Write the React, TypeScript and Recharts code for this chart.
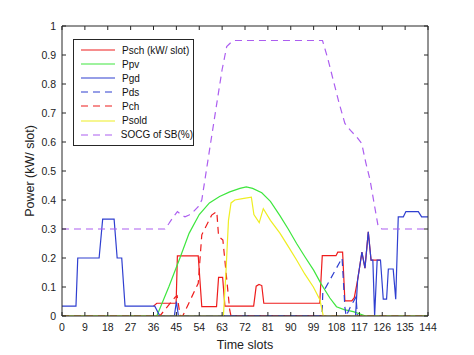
import React from "react";
import { LineChart, Line, XAxis, YAxis, Legend } from "recharts";

// time slot / value pairs
const PSCH = [
  [36, 0.034], [37.3, 0.044], [44.9, 0.044], [45.4, 0.207], [53.6, 0.207], [55, 0.032],
  [60.8, 0.032], [61.6, 0.133], [63.2, 0.133], [64.1, 0.034], [75.4, 0.034], [76.4, 0.103], [77.5, 0.109],
  [78.6, 0.105], [79.4, 0.044], [101.4, 0.044], [102.4, 0.208], [107.8, 0.208], [108.5, 0.22], [110.4, 0.22],
  [111.3, 0.052], [114, 0.052], [115, 0.063], [116.3, 0.124], [118, 0.22], [119.2, 0.165], [120.5, 0.29],
  [121.6, 0.193], [125.3, 0.193],
];
const PPV = [
  [0, 0], [37.3, 0], [42, 0.1], [46.4, 0.2], [50, 0.285], [54, 0.35], [58, 0.39], [62, 0.412], [66, 0.428],
  [70, 0.44], [72.5, 0.445], [75, 0.44], [78.6, 0.425], [82, 0.395], [85.8, 0.345], [89, 0.3], [92.3, 0.25],
  [95.5, 0.205], [99, 0.158], [102, 0.11], [105.4, 0.062], [108, 0.032], [111, 0.022], [114.6, 0.015],
  [119.5, 0], [144, 0],
];
const PGD = [
  [0, 0.034], [5.5, 0.034], [6.2, 0.2], [14.6, 0.2], [16, 0.334], [20.5, 0.334], [21.7, 0.2], [23.5, 0.2],
  [24.8, 0.034], [36.5, 0.034], [38.5, 0], [44.2, 0], [45, 0.05], [45.8, 0], [115.5, 0], [116.3, 0.124],
  [118, 0.22], [119.2, 0.165], [120.5, 0.29], [121.6, 0.193], [122.3, 0.193], [123, 0], [124, 0.193],
  [125.3, 0.193], [126.4, 0.058], [127.7, 0.058], [128.4, 0.162], [130.3, 0.162], [131.3, 0.058],
  [132.3, 0.342], [134.3, 0.342], [135.3, 0.36], [140.2, 0.36], [141.5, 0.342], [144, 0.342],
];
const PDS = [
  [0, 0], [102.3, 0], [102.6, 0.08], [110.2, 0.2], [111.3, 0.03], [111.8, 0], [113.4, 0.03], [115.7, 0.066],
  [116.2, 0], [144, 0],
];
const PCH = [
  [0, 0], [38.5, 0], [44.5, 0.065], [45.3, 0.07], [46.5, 0], [47.5, 0], [53.6, 0.113], [55, 0.28],
  [58.9, 0.348], [60.9, 0.36], [61.6, 0.275], [63.3, 0.262], [66, 0.02], [66.5, 0], [144, 0],
];
const PSOLD = [
  [0, 0], [63.5, 0], [64.5, 0.15], [65.5, 0.33], [66.5, 0.39], [68, 0.4], [71, 0.405], [74.5, 0.41],
  [75.5, 0.35], [77.6, 0.322], [79.2, 0.37], [82, 0.33], [85.8, 0.285], [89, 0.24], [92.3, 0.193],
  [95.5, 0.145], [98.9, 0.1], [101.5, 0.055], [102.8, 0], [144, 0],
];
const SOCG = [
  [0, 0.3], [40.5, 0.3], [42, 0.318], [43.8, 0.342], [45.4, 0.36], [47, 0.348], [48.4, 0.342], [50, 0.348],
  [51.7, 0.36], [53.6, 0.377], [55, 0.4], [58, 0.57], [60.9, 0.733], [63, 0.85], [64.8, 0.929],
  [66.8, 0.946], [68, 0.95], [102.5, 0.95], [104.5, 0.89], [106.7, 0.814], [109, 0.735], [111.3, 0.664],
  [113.5, 0.64], [115.9, 0.618], [117.9, 0.595], [119.5, 0.53], [121.2, 0.469], [124.4, 0.308],
  [125.8, 0.3], [144, 0.3],
];

const X_TICKS = [0, 9, 18, 27, 36, 45, 54, 63, 72, 81, 90, 99, 108, 117, 126, 135, 144];
const Y_TICKS = [0, 0.1, 0.2, 0.3, 0.4, 0.5, 0.6, 0.7, 0.8, 0.9, 1];

const SERIES = [
  { name: "Psch (kW/ slot)", data: PSCH, color: "#ee1c1c", dash: undefined },
  { name: "Ppv", data: PPV, color: "#3ee63e", dash: undefined },
  { name: "Pgd", data: PGD, color: "#2f3fd0", dash: undefined },
  { name: "Pds", data: PDS, color: "#2f3fd0", dash: "7 5" },
  { name: "Pch", data: PCH, color: "#ee1c1c", dash: "7 5" },
  { name: "Psold", data: PSOLD, color: "#eeee22", dash: undefined },
  { name: "SOCG of SB(%)", data: SOCG, color: "#ac5ef0", dash: "7 5" },
];

const AXIS = "#262626";
const FONT = "'Liberation Sans', Arial, sans-serif";

const toPoints = (arr: number[][]) => arr.map(([t, v]) => ({ t, v }));

// inward tick marks only, no labels
const NoLabel = () => <g />;

const renderLegend = () => (
  <div
    style={{
      border: `1px solid ${AXIS}`,
      background: "#fff",
      padding: "3px 0",
      fontFamily: FONT,
      fontSize: 10,
      color: "#111",
    }}
  >
    {SERIES.map((s) => (
      <div key={s.name} style={{ display: "flex", alignItems: "center", height: 14.1 }}>
        <svg width={48} height={10}>
          <line x1={7} y1={5} x2={41} y2={5} stroke={s.color} strokeWidth={1.2} strokeDasharray={s.dash} />
        </svg>
        <span style={{ whiteSpace: "nowrap" }}>{s.name}</span>
      </div>
    ))}
  </div>
);

export default function App() {
  const tickStyle = { fontSize: 10.5, fontFamily: FONT, fill: "#222" };
  const inX = { type: "number" as const, dataKey: "t", domain: [0, 144], ticks: X_TICKS, interval: 0, allowDataOverflow: true, mirror: true, tick: NoLabel, tickSize: 4, tickLine: { stroke: AXIS } };
  const inY = { type: "number" as const, domain: [0, 1], ticks: Y_TICKS, interval: 0, allowDataOverflow: true, mirror: true, tick: NoLabel, tickSize: 4, tickLine: { stroke: AXIS } };
  return (
    <div style={{ position: "fixed", left: 0, top: 0, background: "#fff" }}>
      <LineChart width={474} height={355} margin={{ top: 26, right: 46, left: 0, bottom: 0 }}>
        <XAxis
          xAxisId="x"
          type="number"
          dataKey="t"
          domain={[0, 144]}
          allowDataOverflow
          ticks={X_TICKS}
          interval={0}
          height={39}
          tickLine={false}
          tickSize={0}
          tickMargin={8}
          axisLine={{ stroke: AXIS }}
          tick={tickStyle}
          label={{ value: "Time slots", position: "insideBottom", offset: 6, style: { fontSize: 12.5, fontFamily: FONT, fill: "#222" } }}
        />
        <XAxis xAxisId="xin" {...inX} axisLine={false} />
        <XAxis xAxisId="top" orientation="top" {...inX} axisLine={{ stroke: AXIS }} />
        <YAxis
          yAxisId="y"
          type="number"
          domain={[0, 1]}
          allowDataOverflow
          ticks={Y_TICKS}
          interval={0}
          width={62}
          tickLine={false}
          tickSize={0}
          tickMargin={6}
          axisLine={{ stroke: AXIS }}
          tick={tickStyle}
          label={{ value: "Power (kW/ slot)", angle: -90, position: "center", dx: -1, style: { fontSize: 12.5, fontFamily: FONT, fill: "#222" } }}
        />
        <YAxis yAxisId="yin" {...inY} axisLine={false} />
        <YAxis yAxisId="right" orientation="right" {...inY} axisLine={{ stroke: AXIS }} />
        {SERIES.map((s) => (
          <Line
            key={s.name}
            xAxisId="x"
            yAxisId="y"
            name={s.name}
            data={toPoints(s.data)}
            dataKey="v"
            type="linear"
            stroke={s.color}
            strokeWidth={1.2}
            strokeDasharray={s.dash}
            dot={false}
            activeDot={false}
            isAnimationActive={false}
          />
        ))}
        <Legend
          layout="vertical"
          align="center"
          verticalAlign="middle"
          content={renderLegend}
          wrapperStyle={{ left: 73, top: 39, right: "auto", bottom: "auto", width: 121, height: 104 }}
        />
      </LineChart>
    </div>
  );
}
